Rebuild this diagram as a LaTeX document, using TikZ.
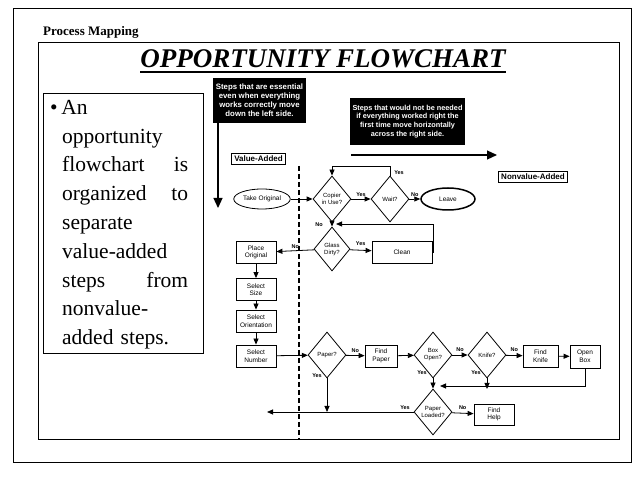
\documentclass[tikz,border=0pt]{standalone}
\usepackage{fontspec}
\setmainfont{Liberation Serif}
\setsansfont{Liberation Sans}
\usetikzlibrary{shapes.geometric,arrows.meta}
\begin{document}
\begin{tikzpicture}[x=1pt,y=-1pt,
  every node/.style={font=\sffamily\fontsize{6.5}{7.5}\selectfont,align=center,inner sep=1pt},
  proc/.style={draw,line width=0.8pt,minimum width=40pt,minimum height=22pt},
  dec/.style={draw,diamond,aspect=0.8,line width=0.8pt,inner sep=-2pt,minimum width=38pt,minimum height=46pt,font=\sffamily\fontsize{6}{7}\selectfont},
  term/.style={draw,ellipse,line width=0.8pt,minimum width=55pt,minimum height=20pt},
  blk/.style={fill=black,text=white,font=\sffamily\bfseries\fontsize{7.8}{9}\selectfont},
  lab/.style={font=\sffamily\bfseries\fontsize{5.5}{6.5}\selectfont},
  arr/.style={-{Triangle[length=6pt,width=5pt]},line width=0.8pt},
  big/.style={-{Triangle[length=10pt,width=9pt]},line width=1.2pt}]
\useasboundingbox (0,0) rectangle (638,478);
\draw[line width=1pt] (13,9) rectangle (631,463);
\draw[line width=1pt] (38,43) rectangle (619,440);
\node[anchor=base west,font=\bfseries\fontsize{13}{15}\selectfont,inner sep=0] (pm) at (43,36) {Process Mapping};
\node[font=\bfseries\itshape\fontsize{27}{30}\selectfont] (title) at (323,59) {OPPORTUNITY FLOWCHART};
\draw[line width=1.5pt] (140,72) -- (506,72);
\node[draw,line width=0.8pt,minimum width=160pt,minimum height=260pt,anchor=north west,inner sep=0] (txt) at (43,93) {};
\node[anchor=north west,text width=138pt,align=left,font=\fontsize{21.5}{28.8}\selectfont,inner sep=0] (body) at (50,100)
 {\textbullet\,An\\
 \hspace*{12pt}opportunity\\
 \hspace*{12pt}flowchart\hfill is\\
 \hspace*{12pt}organized\hfill to\\
 \hspace*{12pt}separate\\
 \hspace*{12pt}value-added\\
 \hspace*{12pt}steps\hfill from\\
 \hspace*{12pt}nonvalue-\\
 \hspace*{12pt}added steps.};
\node[blk,minimum width=93pt,minimum height=45pt] (b1) at (259.5,100.5) {Steps that are essential\\even when everything\\works correctly move\\down the left side.};
\node[blk,minimum width=115pt,minimum height=47pt,font=\sffamily\bfseries\fontsize{7.3}{8.8}\selectfont] (b2) at (407.5,121.5) {Steps that would not be needed\\if everything worked right the\\first time move horizontally\\across the right side.};
\coordinate (a1) at (218,123); \coordinate (a1e) at (218,208);
\draw[big] (a1) -- (a1e);
\coordinate (a2) at (351,155); \coordinate (a2e) at (497,155);
\draw[big] (a2) -- (a2e);
\node[draw,line width=0.8pt,font=\sffamily\bfseries\fontsize{8}{9}\selectfont,inner sep=2.5pt] (va) at (258.5,159) {Value-Added};
\node[draw,line width=0.8pt,font=\sffamily\bfseries\fontsize{8}{9}\selectfont,inner sep=2.5pt] (nva) at (533,176.5) {Nonvalue-Added};
\coordinate (d1) at (299,166); \coordinate (d2) at (299,440);
\draw[line width=1.2pt,dash pattern=on 5pt off 3pt] (d1) -- (d2);
\node[term] (take) at (262,199) {Take Original};
\node[dec] (copier) at (332,199) {Copier\\in Use?};
\node[dec] (wait) at (390,199) {Wait?};
\node[term,line width=1.5pt,minimum width=54pt,minimum height=22pt] (leave) at (448,199) {Leave};
\node[dec,minimum height=44pt,minimum width=36pt] (glass) at (332,249) {Glass\\Dirty?};
\node[proc,minimum width=60pt] (clean) at (402,252) {Clean};
\node[proc] (place) at (256,252.5) {Place\\Original};
\node[proc] (size) at (256,289.5) {Select\\Size};
\node[proc] (orient) at (256,321) {Select\\Orientation};
\node[proc] (number) at (256,356) {Select\\Number};
\node[dec] (paper) at (327,355) {Paper?};
\node[proc,minimum width=32pt] (fpaper) at (381,356) {Find\\Paper};
\node[dec] (box) at (433,355) {Box\\Open?};
\node[dec] (knife) at (487,355) {Knife?};
\node[proc,minimum width=35pt] (fknife) at (540.5,356) {Find\\Knife};
\node[proc,minimum width=30pt,minimum height=23pt] (obox) at (585,356.5) {Open\\Box};
\node[dec] (loaded) at (433,412) {Paper\\Loaded?};
\node[proc,minimum height=21pt] (help) at (494,414.5) {Find\\Help};
% connectors
\draw[arr] (take) -- (copier);
\draw[arr] (copier) -- node[lab,above=1pt]{Yes} (wait);
\draw[arr] (wait) -- node[lab,above=1pt]{No} (leave);
\draw[arr] (wait.north) -- ++(0,-9) -| (copier.north);
\node[lab] (ylab) at (399,173) {Yes};
\draw[arr] (copier.south) -- (glass.north);
\node[lab] (nlab) at (319,225) {No};
\draw[arr] (glass) -- node[lab,above=3pt]{Yes} (clean);
\draw[arr] (clean.east) -- ++(1,0) |- (336,224);
\draw[arr] (glass) -- node[lab,above=1pt]{No} (place);
\draw[arr] (place) -- (size);
\draw[arr] (size) -- (orient);
\draw[arr] (orient) -- (number);
\draw[arr] (number) -- (paper);
\draw[arr] (paper) -- node[lab,above=2pt]{No} (fpaper);
\draw[arr] (fpaper) -- (box);
\draw[arr] (box) -- node[lab,above=2pt]{No} (knife);
\draw[arr] (knife) -- node[lab,above=3pt]{No} (fknife);
\draw[arr] (fknife) -- (obox);
\coordinate (j1) at (440,386);
\draw[arr] (obox.south) |- (j1);
\draw[arr] (knife.south) -- (487,389);
\node[lab] (yk) at (476,373) {Yes};
\draw[arr] (box.south) -- (loaded.north);
\node[lab] (yb) at (422,373) {Yes};
\draw[arr] (loaded) -- node[lab,above=2pt]{No} (help);
\coordinate (lend) at (267,412);
\draw[arr] (loaded.west) -- (lend);
\node[lab] (yl) at (405,408) {Yes};
\draw[arr] (paper.south) -- (327,412);
\node[lab] (yp) at (317,376) {Yes};
\end{tikzpicture}
\end{document}
